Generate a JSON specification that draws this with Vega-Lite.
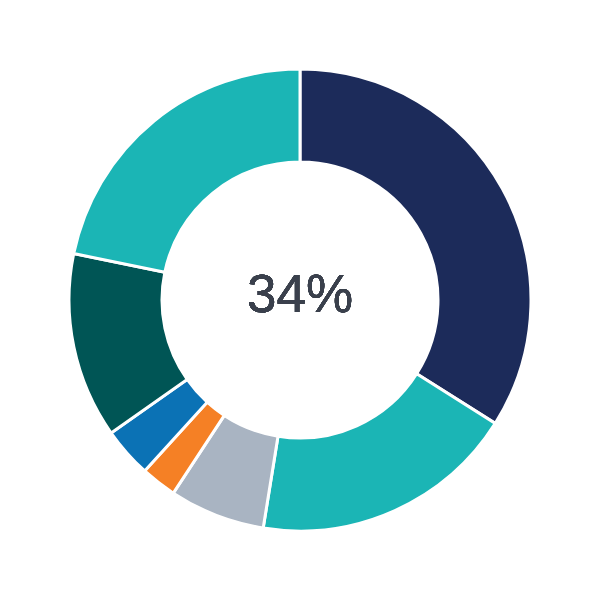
{
  "$schema": "https://vega.github.io/schema/vega-lite/v6.json",
  "width": 600,
  "height": 600,
  "autosize": {"type": "fit", "contains": "padding"},
  "padding": 0,
  "background": "white",
  "view": {"stroke": null},
  "data": {
    "values": [
      {"segment": "A", "value": 34.0, "rank": 1},
      {"segment": "B", "value": 18.6, "rank": 2},
      {"segment": "C", "value": 6.7, "rank": 3},
      {"segment": "D", "value": 2.5, "rank": 4},
      {"segment": "E", "value": 3.5, "rank": 5},
      {"segment": "F", "value": 13.0, "rank": 6},
      {"segment": "G", "value": 21.8, "rank": 7}
    ]
  },
  "layer": [
    {
      "mark": {"type": "arc", "outerRadius": 231, "innerRadius": 138, "stroke": "white", "strokeWidth": 3},
      "encoding": {
        "theta": {"field": "value", "type": "quantitative", "stack": true},
        "order": {"field": "rank", "type": "quantitative"},
        "color": {
          "field": "segment",
          "type": "nominal",
          "legend": null,
          "scale": {
            "domain": ["A", "B", "C", "D", "E", "F", "G"],
            "range": ["#1c2b5a", "#1bb5b5", "#a9b4c2", "#f58025", "#0b72b5", "#005555", "#1bb5b5"]
          }
        }
      }
    },
    {
      "mark": {"type": "text", "text": "34%", "font": "Liberation Sans", "fontSize": 53, "color": "#3a404c", "baseline": "middle", "align": "center", "dy": -4},
      "encoding": {}
    }
  ]
}
